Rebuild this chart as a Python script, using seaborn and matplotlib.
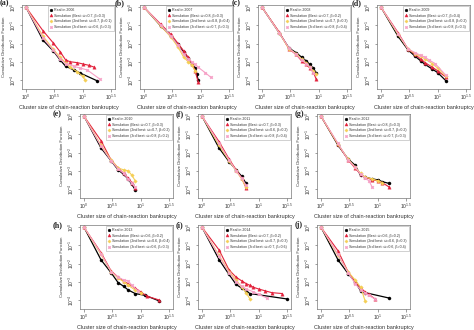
import numpy as np
import matplotlib
matplotlib.use("Agg")
import matplotlib.pyplot as plt
from matplotlib.lines import Line2D
import seaborn as sns

sns.set_style("ticks")
plt.rcParams["font.family"] = ["Liberation Sans", "DejaVu Sans"]
plt.rcParams["mathtext.fontset"] = "custom"
plt.rcParams["mathtext.rm"] = "Liberation Sans"
plt.rcParams["mathtext.it"] = "Liberation Sans:italic"

# ---------------------------------------------------------------- data
panel_tags = ["(a)", "(b)", "(c)", "(d)", "(e)", "(f)", "(g)", "(h)", "(i)", "(j)"]
years = [2006, 2007, 2008, 2009, 2010, 2011, 2012, 2013, 2014, 2015]

best_omega = [0.7, 0.8, 0.7, 0.7, 0.7, 0.7, 0.8, 0.6, 0.7, 0.6]
best_beta = [0.3, 0.3, 0.2, 0.4, 0.3, 0.3, 0.3, 0.2, 0.2, 0.2]
second_omega = [0.7, 0.8, 0.7, 0.8, 0.7, 0.6, 0.7, 0.6, 0.7, 0.6]
second_beta = [0.1, 0.4, 0.3, 0.2, 0.2, 0.2, 0.2, 0.4, 0.3, 0.3]
third_omega = [0.6, 0.7, 0.8, 0.8, 0.8, 0.8, 0.7, 0.6, 0.7, 0.6]
third_beta = [0.3, 0.3, 0.4, 0.3, 0.2, 0.4, 0.3, 0.3, 0.6, 0.4]

# cluster sizes and log10 of the cumulative distribution function
real06_size = [1, 2, 3, 4, 5, 7, 9, 18]
real06_lcdf = [0, -1.82, -2.39, -2.9, -3.25, -3.45, -3.62, -4.05]
best06_size = [1, 2, 3, 4, 5, 6, 8, 10, 13, 16]
best06_lcdf = [0, -1.3, -1.95, -2.45, -2.9, -3.0, -3.05, -3.12, -3.2, -3.3]
second06_size = [1, 2, 3, 4, 5, 6, 8, 10, 11]
second06_lcdf = [0, -1.6, -2.3, -2.75, -3.05, -3.3, -3.55, -3.8, -4.0]
third06_size = [1, 2, 3, 4, 5, 7, 9, 12, 20]
third06_lcdf = [0, -1.7, -2.35, -2.85, -3.1, -3.25, -3.35, -3.45, -3.95]

real07_size = [1, 2, 3, 4, 5, 6, 7, 8, 8.5, 9]
real07_lcdf = [0, -1.05, -1.6, -2.05, -2.45, -2.8, -3.1, -3.35, -3.65, -4.0]
best07_size = [1, 2, 3, 4, 5, 6, 7, 8, 9]
best07_lcdf = [0, -0.95, -1.5, -2.0, -2.4, -2.75, -3.1, -3.5, -4.1]
second07_size = [1, 2, 3, 4, 5, 6, 7, 8]
second07_lcdf = [0, -1.05, -1.65, -2.2, -2.75, -3.0, -3.2, -3.5]
third07_size = [1, 2, 3, 4, 5, 6, 7, 8, 9, 12, 15]
third07_lcdf = [0, -1.0, -1.6, -2.1, -2.6, -2.85, -3.0, -3.15, -3.3, -3.6, -3.85]

real08_size = [1, 2, 3, 4, 5, 6, 7, 8, 9]
real08_lcdf = [0, -1.4, -2.25, -2.5, -2.75, -2.95, -3.15, -3.35, -3.6]
best08_size = [1, 2, 3, 4, 5, 6, 7, 8, 9]
best08_lcdf = [0, -1.35, -2.3, -2.6, -2.95, -3.15, -3.35, -3.55, -3.95]
second08_size = [1, 2, 3, 4, 5, 6, 7, 8, 9]
second08_lcdf = [0, -1.4, -2.3, -2.55, -2.85, -3.05, -3.3, -3.5, -3.7]
third08_size = [1, 2, 3, 4, 5, 6, 7, 8]
third08_lcdf = [0, -1.4, -2.25, -2.6, -2.9, -3.1, -3.3, -3.6]

real09_size = [1, 2, 3, 4, 5, 6, 8, 10, 14]
real09_lcdf = [0, -1.6, -2.35, -2.7, -2.95, -3.15, -3.4, -3.6, -4.05]
best09_size = [1, 2, 3, 4, 5, 6, 8, 10, 14]
best09_lcdf = [0, -1.4, -2.3, -2.6, -2.85, -3.05, -3.3, -3.5, -3.85]
second09_size = [1, 2, 3, 4, 5, 6, 8, 10, 14]
second09_lcdf = [0, -1.5, -2.3, -2.55, -2.7, -2.85, -3.1, -3.35, -3.8]
third09_size = [1, 2, 3, 4, 5, 6, 7, 9, 14]
third09_lcdf = [0, -1.45, -2.3, -2.5, -2.65, -2.75, -2.9, -3.1, -3.75]

real10_size = [1, 2, 3, 4, 5, 6, 7, 8]
real10_lcdf = [0, -1.75, -2.45, -2.95, -3.2, -3.45, -3.75, -4.05]
best10_size = [1, 2, 3, 4, 5, 6, 7, 8]
best10_lcdf = [0, -1.35, -2.4, -2.85, -3.15, -3.4, -3.65, -3.95]
second10_size = [1, 2, 3, 4, 5, 6, 7, 8]
second10_lcdf = [0, -1.6, -2.4, -2.85, -2.95, -3.0, -3.25, -3.55]
third10_size = [1, 2, 3, 4, 5, 6, 7, 8]
third10_lcdf = [0, -1.65, -2.45, -2.9, -3.15, -3.45, -3.7, -3.9]

real11_size = [1, 2, 3, 4, 5, 6]
real11_lcdf = [0, -1.75, -2.5, -2.95, -3.3, -3.7]
best11_size = [1, 2, 3, 4, 5, 6]
best11_lcdf = [0, -1.4, -2.35, -2.95, -3.4, -3.95]
second11_size = [1, 2, 3, 4, 5, 6]
second11_lcdf = [0, -1.6, -2.45, -3.0, -3.45, -3.9]
third11_size = [1, 2, 3, 4, 5, 6]
third11_lcdf = [0, -1.5, -2.4, -3.0, -3.4, -3.8]

real12_size = [1, 2, 3, 4, 5, 6, 8, 10, 12, 16]
real12_lcdf = [0, -1.6, -2.35, -2.7, -3.25, -3.35, -3.45, -3.5, -3.6, -3.7]
best12_size = [1, 2, 3, 4, 5, 6, 8, 10, 12, 16]
best12_lcdf = [0, -1.55, -2.4, -2.85, -3.2, -3.35, -3.5, -3.55, -3.65, -3.9]
second12_size = [1, 2, 3, 4, 5, 6, 8, 10, 12]
second12_lcdf = [0, -1.55, -2.35, -2.8, -3.15, -3.35, -3.45, -3.55, -3.65]
third12_size = [1, 2, 3, 4, 5, 6, 7, 8]
third12_lcdf = [0, -1.5, -2.4, -2.8, -3.2, -3.4, -3.55, -3.9]

real13_size = [1, 2, 3, 4, 5, 6, 8, 12, 21]
real13_lcdf = [0, -1.8, -2.5, -3.05, -3.25, -3.45, -3.65, -3.75, -4.05]
best13_size = [1, 2, 3, 4, 5, 6, 8, 10, 13, 21]
best13_lcdf = [0, -1.4, -2.4, -2.75, -2.95, -3.1, -3.35, -3.55, -3.8, -4.0]
second13_size = [1, 2, 3, 4, 5, 6, 8, 10]
second13_lcdf = [0, -1.5, -2.45, -2.8, -3.0, -3.2, -3.45, -3.6]
third13_size = [1, 2, 3, 4, 5, 6, 7, 9]
third13_lcdf = [0, -1.45, -2.45, -2.75, -2.9, -2.95, -3.2, -3.5]

real14_size = [1, 2, 3, 4, 5, 6, 7, 32]
real14_lcdf = [0, -1.78, -2.6, -3.15, -3.35, -3.5, -3.65, -3.95]
best14_size = [1, 2, 3, 4, 5, 6, 7, 8, 10, 13, 17, 26]
best14_lcdf = [0, -1.25, -2.35, -2.75, -2.95, -3.1, -3.2, -3.3, -3.4, -3.5, -3.6, -3.65]
second14_size = [1, 2, 3, 4, 5, 6, 7]
second14_lcdf = [0, -1.55, -2.45, -2.9, -3.3, -3.6, -3.95]
third14_size = [1, 2, 3, 4, 5, 6, 8, 10, 14]
third14_lcdf = [0, -1.6, -2.5, -3.0, -3.25, -3.4, -3.55, -3.7, -3.9]

real15_size = [1, 2, 3, 4, 5, 6, 16]
real15_lcdf = [0, -1.8, -2.55, -3.0, -3.5, -3.6, -3.9]
best15_size = [1, 2, 3, 4, 5, 6, 7, 9]
best15_lcdf = [0, -1.3, -2.45, -3.0, -3.35, -3.55, -3.7, -3.95]
second15_size = [1, 2, 3, 4, 5, 6]
second15_lcdf = [0, -1.55, -2.45, -2.9, -3.3, -4.05]
third15_size = [1, 2, 3, 4, 5, 6, 7, 9]
third15_lcdf = [0, -1.5, -2.5, -3.1, -3.45, -3.6, -3.75, -3.95]

x_tick_exp = [0, 0.5, 1, 1.5]
y_tick_exp = [0, -1, -2, -3, -4]

# ---------------------------------------------------------------- styling
REAL_C = "#000000"
BEST_C = "#e3223c"
SECOND_C = "#f5cf55"
THIRD_C = "#f6a0c6"

panel_series = {}
for yy in ["06", "07", "08", "09", "10", "11", "12", "13", "14", "15"]:
    g = globals()
    panel_series[yy] = [
        (g[f"real{yy}_size"], g[f"real{yy}_lcdf"]),
        (g[f"best{yy}_size"], g[f"best{yy}_lcdf"]),
        (g[f"second{yy}_size"], g[f"second{yy}_lcdf"]),
        (g[f"third{yy}_size"], g[f"third{yy}_lcdf"]),
    ]

series_style = [
    dict(color=REAL_C, marker="o", markersize=2.2, linewidth=0.9),
    dict(color=BEST_C, marker="^", markersize=2.4, linewidth=0.8),
    dict(color=SECOND_C, marker="D", markersize=1.8, linewidth=0.8),
    dict(color=THIRD_C, marker="X", markersize=2.2, linewidth=0.8),
]

W, H = 474, 330
fig = plt.figure(figsize=(W / 100, H / 100), dpi=100)
fig.patch.set_facecolor("white")

# axes boxes in pixel coordinates: (left, top)
box_w, box_h = 93, 84
boxes = [
    (22, 5), (140, 5), (258, 5), (377, 5),
    (80, 114), (198, 114), (317, 114),
    (80, 225), (198, 225), (317, 225),
]
tag_pos = [
    (0, -1), (115, -1), (232, -1), (352, -1),
    (53, 110), (176, 110), (295, 110),
    (53, 221), (176, 221), (295, 221),
]

for i, yy in enumerate(panel_series):
    left, top = boxes[i]
    ax = fig.add_axes([left / W, 1 - (top + box_h) / H, box_w / W, box_h / H])
    for (size, lcdf), st in zip(panel_series[yy], series_style):
        sns.lineplot(
            x=np.array(size, dtype=float),
            y=10.0 ** np.array(lcdf),
            ax=ax,
            sort=False,
            estimator=None,
            color=st["color"],
            linewidth=st["linewidth"],
            marker=st["marker"],
            markersize=st["markersize"],
            markeredgewidth=0.3,
            markeredgecolor=st["color"],
        )
    ax.set_xscale("log")
    ax.set_yscale("log")
    ax.set_xlim(10 ** -0.07, 10 ** 1.57)
    ax.set_ylim(10 ** -4.5, 10 ** 0.12)
    ax.set_xticks([10.0 ** e for e in x_tick_exp])
    ax.set_xticklabels([f"$10^{{{e:g}}}$" for e in x_tick_exp])
    ax.set_yticks([10.0 ** e for e in y_tick_exp])
    ax.set_yticklabels([f"$10^{{{e:g}}}$" for e in y_tick_exp], rotation=90, va="center")
    ax.minorticks_off()
    ax.tick_params(axis="both", which="major", labelsize=3.5, length=1.8, width=0.4,
                   color="#555555", labelcolor="#333333", pad=1.2)
    for sp in ax.spines.values():
        sp.set_visible(True)
        sp.set_linewidth(0.5)
        sp.set_color("#777777")
    ax.set_xlabel("Cluster size of chain-reaction bankruptcy", fontsize=4.0,
                  color="#333333", labelpad=1.5)
    ax.set_ylabel("Cumulative Distribution Function", fontsize=3.1,
                  color="#333333", labelpad=1.5)

    handles = [
        Line2D([], [], linestyle="none", marker=st["marker"], color=st["color"],
               markersize=st["markersize"] * 0.9, markeredgewidth=0.3)
        for st in series_style
    ]
    labels = [
        f"Real in {years[i]}",
        f"Simulation (Best: ω={best_omega[i]}, β={best_beta[i]})",
        f"Simulation (2nd best: ω={second_omega[i]}, β={second_beta[i]})",
        f"Simulation (3rd best: ω={third_omega[i]}, β={third_beta[i]})",
    ]
    leg = ax.legend(handles, labels, loc="upper right", fontsize=2.6, frameon=True,
                    fancybox=False, edgecolor="#999999", borderpad=0.5,
                    handlelength=0.8, handletextpad=0.5, labelspacing=0.45,
                    borderaxespad=0.35)
    leg.get_frame().set_linewidth(0.4)
    for t in leg.get_texts():
        t.set_color("#333333")

    tx, ty = tag_pos[i]
    fig.text(tx / W, 1 - ty / H, panel_tags[i], fontsize=5.8, fontweight="bold",
             family=["Liberation Serif", "DejaVu Serif"], ha="left", va="top")

fig.savefig("out.png", dpi=100, facecolor="white")
